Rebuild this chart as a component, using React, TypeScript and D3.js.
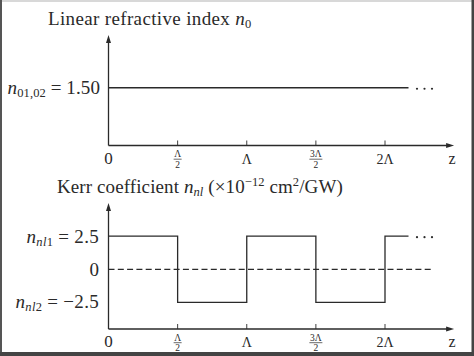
import React from "react";
import * as d3 from "d3";

const W = 474;
const H = 356;

// x positions in units of Λ
const xTickValues = [0.5, 1, 1.5, 2];
const xTickNums = ["Λ", "Λ", "3Λ", "2Λ"];
const xTickDens = ["2", "", "2", ""];
const zEnd = 2.17;
const zAxisEnd = 2.5;

// top panel: linear refractive index
const linearIndex = 1.5;
// bottom panel: Kerr coefficient steps (z in Λ, value)
const kerrZ = [0, 0.5, 1, 1.5, 2, 2.17];
const kerrValues = [2.5, -2.5, 2.5, -2.5, 2.5, 2.5];

const FONT = "Liberation Serif";
const INK = "#2a2a2a";
const T = { fontFamily: FONT, fill: INK } as const;

const x = d3.scaleLinear().domain([0, 2]).range([108.5, 385]);
const yTop = d3.scaleLinear().domain([0, 3]).range([145.5, 30]);
const yBot = d3.scaleLinear().domain([-4.5, 5]).range([329, 203]);

function XAxis({ y0, baseline }: { y0: number; baseline: number }) {
  const xe = x(zAxisEnd);
  return (
    <g>
      <line x1={x(0)} x2={xe - 4} y1={y0} y2={y0} stroke={INK} strokeWidth={1.3} />
      <path d={`M${xe},${y0} L${xe - 8},${y0 - 2.5} L${xe - 8},${y0 + 2.5} Z`} fill={INK} />
      {xTickValues.map((v, i) => (
        <line key={"t" + i} x1={x(v)} x2={x(v)} y1={y0} y2={y0 - 5} stroke={INK} strokeWidth={0.9} />
      ))}
      <text x={x(0)} y={baseline} fontSize={17} textAnchor="middle" {...T}>0</text>
      {xTickValues.map((v, i) =>
        xTickDens[i] ? (
          <g key={"l" + i}>
            <text x={x(v)} y={baseline - 6.5} fontSize={9.5} textAnchor="middle" {...T}>{xTickNums[i]}</text>
            <line x1={x(v) - (xTickNums[i].length > 1 ? 6.5 : 4)} x2={x(v) + (xTickNums[i].length > 1 ? 6.5 : 4)} y1={baseline - 4.3} y2={baseline - 4.3} stroke={INK} strokeWidth={0.7} />
            <text x={x(v)} y={baseline + 4} fontSize={9.5} textAnchor="middle" {...T}>{xTickDens[i]}</text>
          </g>
        ) : (
          <text key={"l" + i} x={x(v)} y={baseline} fontSize={14} textAnchor="middle" {...T}>{xTickNums[i]}</text>
        )
      )}
      <text x={452} y={baseline} fontSize={16} textAnchor="middle" {...T}>z</text>
    </g>
  );
}

function YAxis({ yBottom, yTopEnd }: { yBottom: number; yTopEnd: number }) {
  const x0 = x(0);
  return (
    <g>
      <line x1={x0} x2={x0} y1={yBottom} y2={yTopEnd + 4} stroke={INK} strokeWidth={1.3} />
      <path d={`M${x0},${yTopEnd} L${x0 - 2.5},${yTopEnd + 8} L${x0 + 2.5},${yTopEnd + 8} Z`} fill={INK} />
    </g>
  );
}

function Dots({ y }: { y: number }) {
  return (
    <g>
      {[0, 1, 2].map((i) => (
        <circle key={i} cx={417 + i * 7.5} cy={y} r={1.1} fill={INK} />
      ))}
    </g>
  );
}

export default function App() {
  const topLine = d3.line<number>()
    .x((d) => d)
    .y(() => yTop(linearIndex))([x(0), x(zEnd)]);
  const kerrLine = d3.line<number>()
    .x((_, i) => x(kerrZ[i]))
    .y((d) => yBot(d))
    .curve(d3.curveStepAfter)(kerrValues);

  return (
    <svg width={W} height={H} style={{ position: "absolute", left: 0, top: 0, background: "#fff" }}>
      {/* frame */}
      <rect x={0} y={0} width={W} height={2} fill="#d8d8d8" />
      <rect x={0} y={0} width={2} height={H} fill="#555" />
      <rect x={W - 2.5} y={0} width={2.5} height={H} fill="#444" />
      <rect x={0} y={H - 4} width={W} height={4} fill="#444" />

      {/* top panel */}
      <text x={48} y={24.5} fontSize={19} letterSpacing={0.35} {...T}>
        Linear refractive index <tspan fontStyle="italic">n</tspan>
        <tspan fontSize={12.5} dy={3}>0</tspan>
      </text>
      <YAxis yBottom={yTop(0)} yTopEnd={35} />
      <XAxis y0={yTop(0)} baseline={163.5} />
      <path d={topLine || ""} fill="none" stroke={INK} strokeWidth={1.3} />
      <Dots y={yTop(linearIndex) + 1} />
      <text x={100} y={94} fontSize={19} textAnchor="end" letterSpacing={0.1} {...T}>
        <tspan fontStyle="italic">n</tspan>
        <tspan fontSize={12.5} dy={3}>01,02</tspan>
        <tspan dy={-3}> = 1.50</tspan>
      </text>

      {/* bottom panel */}
      <text x={57} y={193} fontSize={19} letterSpacing={0.1} {...T}>
        Kerr coefficient <tspan fontStyle="italic">n</tspan>
        <tspan fontSize={12.5} fontStyle="italic" dy={3}>nl</tspan>
        <tspan dy={-3}> (×10</tspan>
        <tspan fontSize={12.5} dy={-7}>−12</tspan>
        <tspan dy={7}> cm</tspan>
        <tspan fontSize={12.5} dy={-7}>2</tspan>
        <tspan dy={7}>/GW)</tspan>
      </text>
      <YAxis yBottom={yBot(-4.5)} yTopEnd={203} />
      <line x1={x(0)} x2={432} y1={yBot(0)} y2={yBot(0)} stroke={INK} strokeWidth={1.3} strokeDasharray="6 3.3" />
      <path d={kerrLine || ""} fill="none" stroke={INK} strokeWidth={1.3} />
      <Dots y={yBot(2.5) + 1} />
      <text x={99} y={242.5} fontSize={19} textAnchor="end" letterSpacing={0.3} {...T}>
        <tspan fontStyle="italic">n</tspan>
        <tspan fontSize={12.5} fontStyle="italic" dy={3}>nl</tspan>
        <tspan fontSize={12.5}>1</tspan>
        <tspan dy={-3}> = 2.5</tspan>
      </text>
      <text x={99} y={276} fontSize={19} textAnchor="end" {...T}>0</text>
      <text x={99} y={307.5} fontSize={19} textAnchor="end" letterSpacing={0.3} {...T}>
        <tspan fontStyle="italic">n</tspan>
        <tspan fontSize={12.5} fontStyle="italic" dy={3}>nl</tspan>
        <tspan fontSize={12.5}>2</tspan>
        <tspan dy={-3}> = −2.5</tspan>
      </text>
      <XAxis y0={yBot(-4.5)} baseline={347} />
    </svg>
  );
}
